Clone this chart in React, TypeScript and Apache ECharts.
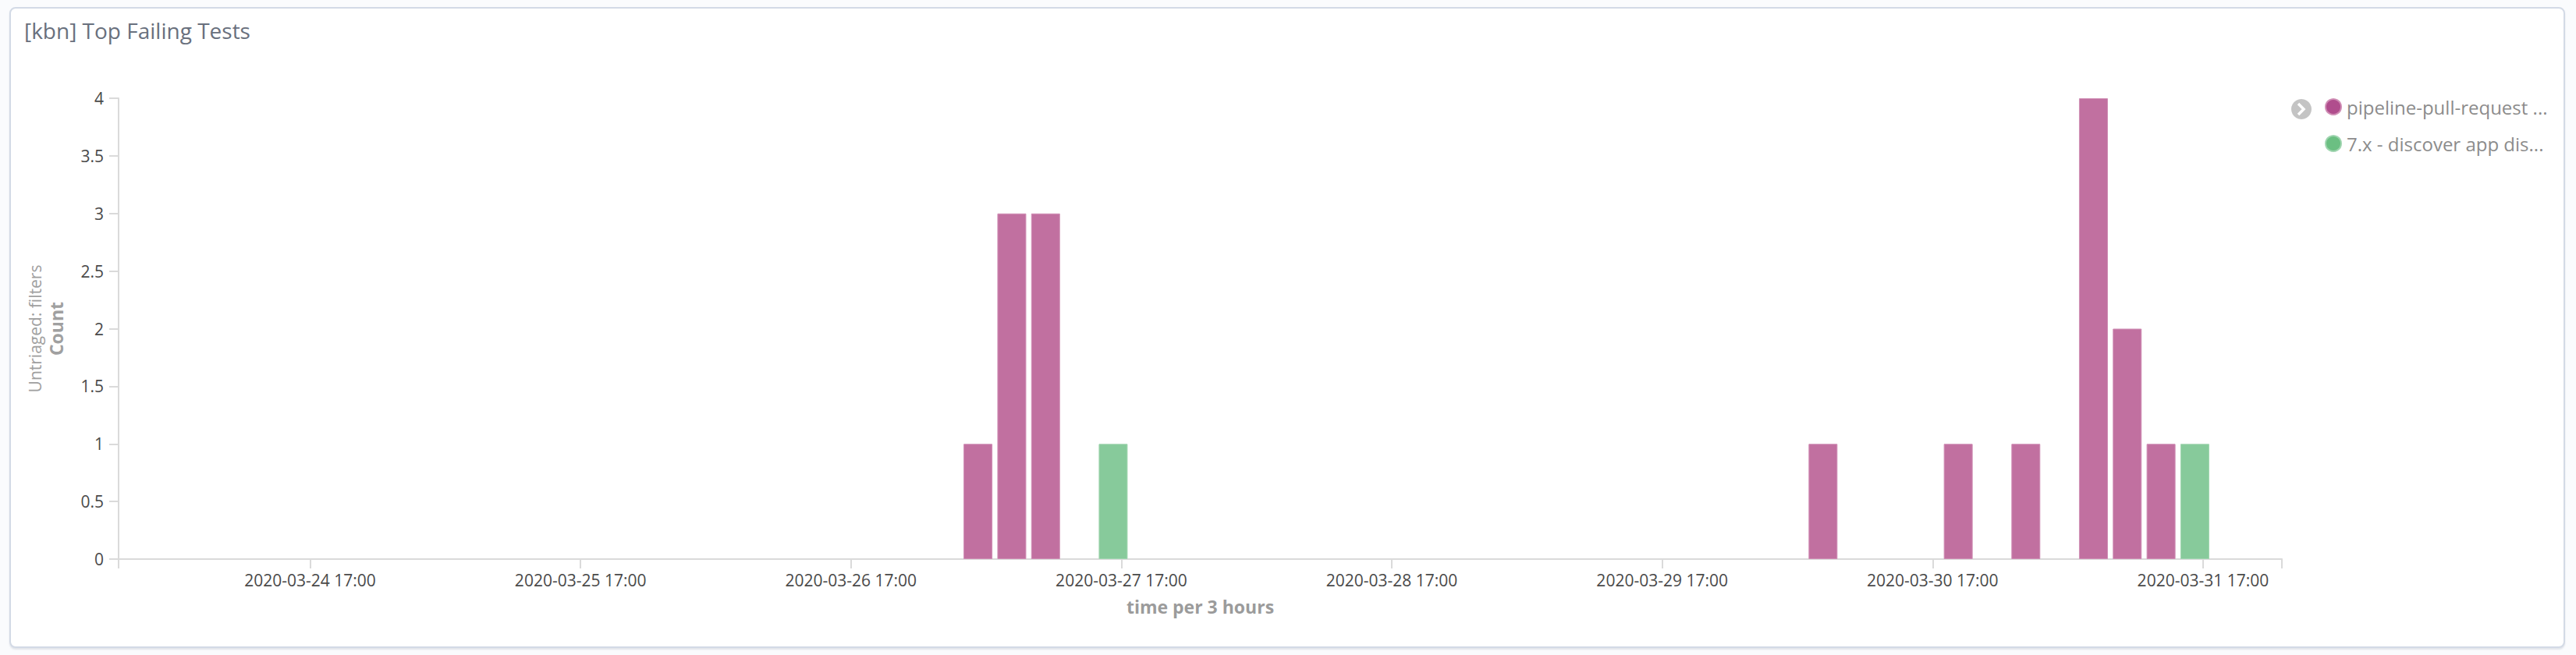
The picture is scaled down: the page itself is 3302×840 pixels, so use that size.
import React, { useEffect, useRef } from "react";
import * as echarts from "echarts";

// ---- data ----
const chartTitle = "[kbn] Top Failing Tests";
const seriesNames = ["pipeline-pull-request ...", "7.x - discover app dis..."];
const pipelineTimes = [
  "2020-03-27 03:00",
  "2020-03-27 06:00",
  "2020-03-27 09:00",
  "2020-03-30 06:00",
  "2020-03-30 18:00",
  "2020-03-31 00:00",
  "2020-03-31 06:00",
  "2020-03-31 09:00",
  "2020-03-31 12:00",
];
const pipelineCounts = [1, 3, 3, 1, 1, 1, 4, 2, 1];
const discoverTimes = ["2020-03-27 15:00", "2020-03-31 15:00"];
const discoverCounts = [1, 1];
const tickTimes = [
  "2020-03-24 17:00",
  "2020-03-25 17:00",
  "2020-03-26 17:00",
  "2020-03-27 17:00",
  "2020-03-28 17:00",
  "2020-03-29 17:00",
  "2020-03-30 17:00",
  "2020-03-31 17:00",
];
const axisStart = "2020-03-24 00:00";
const axisEnd = "2020-04-01 00:00";
const bucketHours = 3;

// ---- helpers ----
const HOUR = 3600 * 1000;
function parseT(s: string): number {
  const [d, t] = s.split(" ");
  const [y, m, day] = d.split("-").map(Number);
  const [hh, mm] = t.split(":").map(Number);
  return Date.UTC(y, m - 1, day, hh, mm);
}
function pad(n: number) {
  return n < 10 ? "0" + n : "" + n;
}
function fmtT(v: number): string {
  const d = new Date(v);
  return (
    d.getUTCFullYear() +
    "-" +
    pad(d.getUTCMonth() + 1) +
    "-" +
    pad(d.getUTCDate()) +
    " " +
    pad(d.getUTCHours()) +
    ":" +
    pad(d.getUTCMinutes())
  );
}
// bars occupy 85% of their bucket, starting at bucket start
const barFrac = 0.85;
function barPoints(times: string[], counts: number[]) {
  return times.map((t, i) => [parseT(t) + (bucketHours * barFrac * HOUR) / 2, counts[i]]);
}

const FONT = "'Open Sans', sans-serif";

export default function App() {
  const ref = useRef<HTMLDivElement>(null);
  useEffect(() => {
    if (!ref.current) return;
    const chart = echarts.init(ref.current, null, { renderer: "svg" });
    const minX = parseT(axisStart);
    const maxX = parseT(axisEnd);
    const ticks = tickTimes.map(parseT);
    chart.setOption({
      animation: false,
      title: {
        text: chartTitle,
        left: 31,
        top: 25,
        padding: 0,
        textStyle: { fontFamily: FONT, fontSize: 28, fontWeight: "normal", color: "#69707D" },
      },
      legend: {
        orient: "vertical",
        left: 2980,
        top: 125,
        padding: 0,
        itemGap: 23,
        itemWidth: 20,
        itemHeight: 20,
        icon: "circle",
        textStyle: { fontFamily: FONT, fontSize: 24, color: "#8C8C8C", padding: [0, 0, 0, 2] },
        data: [
          { name: seriesNames[0], itemStyle: { color: "#B04D8D" } },
          { name: seriesNames[1], itemStyle: { color: "#6BBF82" } },
        ],
      },
      graphic: [
        { type: "circle", shape: { cx: 2950, cy: 140, r: 13 }, style: { fill: "#C4C4C4" } },
        {
          type: "polyline",
          shape: { points: [[2946, 133], [2953, 140], [2946, 147]] },
          style: { stroke: "#FFFFFF", lineWidth: 3.5, fill: null },
        },
      ],
      grid: { left: 152, right: 377, top: 126, bottom: 123, containLabel: false, outerBoundsMode: "none" },
      xAxis: {
        type: "value",
        min: minX,
        max: maxX,
        name: "time per 3 hours",
        nameLocation: "middle",
        nameGap: 49,
        nameTextStyle: { fontFamily: FONT, fontSize: 23, fontWeight: "bold", color: "#9B9B9B" },
        axisLine: { show: true, lineStyle: { color: "#DADADA", width: 2 } },
        axisTick: { show: true, length: 12, lineStyle: { color: "#DADADA", width: 2 }, customValues: [minX, ...ticks, maxX] },
        axisLabel: {
          show: true,
          customValues: ticks,
          formatter: (v: number) => fmtT(v),
          fontFamily: FONT,
          fontSize: 21,
          color: "#4A4A4A",
          margin: 16,
        },
        splitLine: { show: false },
      },
      yAxis: {
        type: "value",
        min: 0,
        max: 4,
        interval: 0.5,
        name: "{a|Untriaged: filters}\n{b|Count}",
        nameLocation: "middle",
        nameRotate: 90,
        nameGap: 67,
        nameTextStyle: {
          rich: {
            a: { fontFamily: FONT, fontSize: 21, color: "#A0A0A0", lineHeight: 27 },
            b: { fontFamily: FONT, fontSize: 23, fontWeight: "bold", color: "#A0A0A0", lineHeight: 27 },
          },
        },
        axisLine: { show: true, lineStyle: { color: "#DADADA", width: 2 } },
        axisTick: { show: true, length: 12, lineStyle: { color: "#DADADA", width: 2 } },
        axisLabel: { fontFamily: FONT, fontSize: 21, color: "#4A4A4A", margin: 19 },
        splitLine: { show: false },
      },
      series: [
        {
          name: seriesNames[0],
          type: "bar",
          stack: "total",
          barWidth: 37,
          itemStyle: { color: "#C170A0", borderColor: "#CF8DB4", borderWidth: 1 },
          data: barPoints(pipelineTimes, pipelineCounts),
        },
        {
          name: seriesNames[1],
          type: "bar",
          stack: "total",
          barWidth: 37,
          itemStyle: { color: "#87CA9B", borderColor: "#A0D5B0", borderWidth: 1 },
          data: barPoints(discoverTimes, discoverCounts),
        },
      ],
    });
    return () => chart.dispose();
  }, []);

  return (
    <div style={{ position: "absolute", left: 0, top: 0, width: 3302, height: 840, background: "#FAFBFD", overflow: "hidden" }}>
      <div
        style={{
          position: "absolute",
          left: 12,
          top: 9,
          width: 3276,
          height: 822,
          boxSizing: "border-box",
          border: "2px solid #D3DAE6",
          borderRadius: 8,
          background: "#FFFFFF",
          boxShadow: "0 2px 2px rgba(152,162,179,0.25)",
        }}
      />
      <div ref={ref} style={{ position: "absolute", left: 0, top: 0, width: 3302, height: 840 }} />
    </div>
  );
}
